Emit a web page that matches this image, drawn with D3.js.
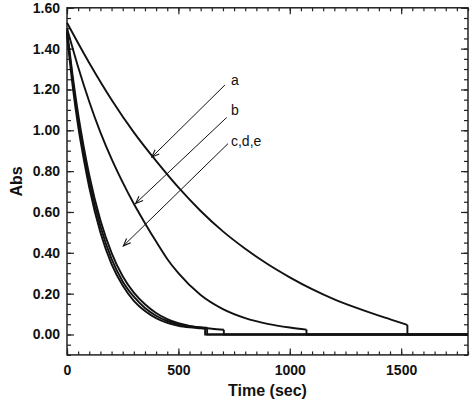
<!DOCTYPE html>
<html>
<head>
<meta charset="utf-8">
<script src="https://cdn.jsdelivr.net/npm/d3@7"></script>
<style>
  html, body { margin: 0; padding: 0; background: #fff; }
  svg { display: block; }
  text { font-family: "Liberation Sans", Arial, Helvetica, sans-serif; fill: #111; }
</style>
</head>
<body>
<svg id="chart" width="474" height="414"></svg>
<script>
// ---- data ----
const seriesNames = ["a", "b", "c", "d", "e"];
const timeA = [0, 100, 200, 300, 400, 500, 600, 700, 800, 900, 1000, 1100, 1200, 1300, 1400, 1500, 1528];
const absA  = [1.527, 1.33, 1.15, 0.99, 0.85, 0.72, 0.605, 0.505, 0.42, 0.345, 0.28, 0.222, 0.172, 0.130, 0.092, 0.057, 0.047];
const timeB = [0, 50, 100, 150, 200, 250, 300, 350, 400, 450, 500, 600, 700, 800, 900, 1000, 1075];
const absB  = [1.50, 1.31, 1.14, 0.99, 0.86, 0.745, 0.64, 0.545, 0.455, 0.37, 0.30, 0.193, 0.124, 0.080, 0.052, 0.034, 0.024];
const timeC = [0, 25, 50, 75, 100, 150, 200, 250, 300, 350, 400, 450, 500, 550, 600, 620];
const absC  = [1.47, 1.22, 1.02, 0.86, 0.72, 0.50, 0.345, 0.24, 0.165, 0.115, 0.08, 0.057, 0.043, 0.035, 0.03, 0.028];
const timeD = [0, 25, 50, 75, 100, 150, 200, 250, 300, 350, 400, 450, 500, 550, 600, 629];
const absD  = [1.48, 1.25, 1.05, 0.89, 0.75, 0.53, 0.37, 0.26, 0.185, 0.13, 0.092, 0.066, 0.05, 0.04, 0.035, 0.033];
const timeE = [0, 25, 50, 75, 100, 150, 200, 250, 300, 350, 400, 450, 500, 550, 600, 650, 704];
const absE  = [1.49, 1.27, 1.08, 0.92, 0.78, 0.56, 0.40, 0.285, 0.205, 0.148, 0.105, 0.075, 0.055, 0.042, 0.034, 0.028, 0.023];
const baselineEnd = 1800;

const xTickLabels = [0, 500, 1000, 1500];
const xMinorTicks = d3.range(0, 1801, 50);
const yTickLabels = [0.00, 0.20, 0.40, 0.60, 0.80, 1.00, 1.20, 1.40, 1.60];
const yMinorTicks = d3.range(-10, 161, 5).map(v => v / 100);

// annotations: label, label position (time, abs), arrow start (time, abs), arrow tip (time, abs)
const annLabels = ["a", "b", "c,d,e"];
const annLabelPos = [[736, 1.222], [736, 1.075], [736, 0.923]];
const annStart = [[709, 1.222], [717, 1.063], [723, 0.935]];
const annTip = [[381, 0.869], [308, 0.642], [253, 0.434]];

// ---- layout ----
const svg = d3.select("#chart");
const margin = { left: 67, top: 7.8, right: 6, bottom: 59 };
const x = d3.scaleLinear().domain([0, 1800]).range([margin.left, 468]);
const y = d3.scaleLinear().domain([-0.1, 1.6]).range([354.9, margin.top]);

const g = svg.append("g");

function styleAxis(sel) {
  sel.select(".domain").remove();
  sel.selectAll(".tick line").attr("stroke", "#222").attr("stroke-width", 1.2);
  sel.selectAll("text").attr("font-size", 14).attr("font-weight", "bold").attr("fill", "#111");
}

// minor ticks
g.append("g").attr("transform", `translate(0,${y(-0.1)})`)
  .call(d3.axisBottom(x).tickValues(xMinorTicks).tickSize(-3.5).tickFormat(""))
  .call(styleAxis);
g.append("g").attr("transform", `translate(0,${y(1.6)})`)
  .call(d3.axisTop(x).tickValues(xMinorTicks).tickSize(-3.5).tickFormat(""))
  .call(styleAxis);
g.append("g").attr("transform", `translate(${x(0)},0)`)
  .call(d3.axisLeft(y).tickValues(yMinorTicks).tickSize(-4).tickFormat(""))
  .call(styleAxis);
g.append("g").attr("transform", `translate(${x(1800)},0)`)
  .call(d3.axisRight(y).tickValues(yMinorTicks).tickSize(-4).tickFormat(""))
  .call(styleAxis);

// major ticks
g.append("g").attr("transform", `translate(0,${y(-0.1)})`)
  .call(d3.axisBottom(x).tickValues(xTickLabels).tickSize(-6.5).tickPadding(10).tickFormat(d3.format("d")))
  .call(styleAxis);
g.append("g").attr("transform", `translate(0,${y(1.6)})`)
  .call(d3.axisTop(x).tickValues(xTickLabels).tickSize(-6.5).tickFormat(""))
  .call(styleAxis);
g.append("g").attr("transform", `translate(${x(0)},0)`)
  .call(d3.axisLeft(y).tickValues(yTickLabels).tickSize(-7).tickPadding(7).tickFormat(d3.format(".2f")))
  .call(styleAxis);
g.append("g").attr("transform", `translate(${x(1800)},0)`)
  .call(d3.axisRight(y).tickValues(yTickLabels).tickSize(-7).tickFormat(""))
  .call(styleAxis);

// frame
g.append("rect")
  .attr("x", x(0)).attr("y", y(1.6))
  .attr("width", x(1800) - x(0)).attr("height", y(-0.1) - y(1.6))
  .attr("fill", "none").attr("stroke", "#222").attr("stroke-width", 1.5);

// curves
const series = [
  [timeA, absA], [timeB, absB], [timeC, absC], [timeD, absD], [timeE, absE]
];
const curveLine = d3.line().x(d => x(d[0])).y(d => y(d[1])).curve(d3.curveMonotoneX);
const straight = d3.line().x(d => x(d[0])).y(d => y(d[1]));
series.forEach(([ts, vs], i) => {
  const pts = ts.map((t, j) => [t, vs[j]]);
  g.append("path").attr("d", curveLine(pts))
    .attr("fill", "none").attr("stroke", "#111").attr("stroke-width", 1.9)
    .attr("stroke-linejoin", "round");
  const last = pts[pts.length - 1];
  g.append("path").attr("d", straight([last, [last[0], 0], [baselineEnd, 0]]))
    .attr("fill", "none").attr("stroke", "#111").attr("stroke-width", 1.9);
});

// annotations
annLabels.forEach((lab, i) => {
  const [sx, sy] = [x(annStart[i][0]), y(annStart[i][1])];
  const [tx, ty] = [x(annTip[i][0]), y(annTip[i][1])];
  g.append("line").attr("x1", sx).attr("y1", sy).attr("x2", tx).attr("y2", ty)
    .attr("stroke", "#111").attr("stroke-width", 1);
  const ang = Math.atan2(sy - ty, sx - tx);
  const L = 8, spread = 0.38;
  const p1 = [tx + L * Math.cos(ang + spread), ty + L * Math.sin(ang + spread)];
  const p2 = [tx + L * Math.cos(ang - spread), ty + L * Math.sin(ang - spread)];
  g.append("path").attr("d", `M${p1[0]},${p1[1]}L${tx},${ty}L${p2[0]},${p2[1]}`)
    .attr("fill", "none").attr("stroke", "#111").attr("stroke-width", 1.1);
  g.append("text").attr("x", x(annLabelPos[i][0])).attr("y", y(annLabelPos[i][1]))
    .attr("font-size", 14).text(lab);
});

// axis titles
svg.append("text").attr("x", (x(0) + x(1800)) / 2).attr("y", 396)
  .attr("text-anchor", "middle").attr("font-size", 16).attr("font-weight", "bold")
  .text("Time (sec)");
svg.append("text")
  .attr("transform", `translate(21.5,${(y(1.6) + y(-0.1)) / 2}) rotate(-90)`)
  .attr("text-anchor", "middle").attr("font-size", 16).attr("font-weight", "bold")
  .text("Abs");
</script>
</body>
</html>
